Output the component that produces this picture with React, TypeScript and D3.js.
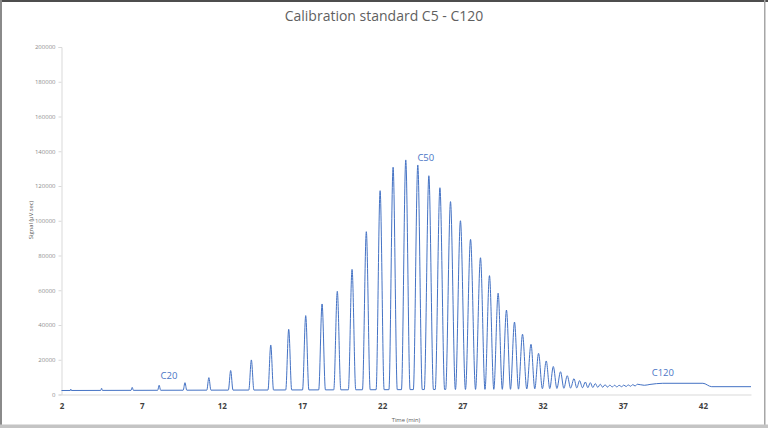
import React, { useEffect, useRef } from 'react'
import * as d3 from 'd3'

const WIDTH = 768
const HEIGHT = 428

// retention time (min) and apex signal of each alkane peak, C17 .. ~C66
const peakTimes = [
  2.58, 4.5, 6.41, 8.09, 9.7, 11.19, 12.55, 13.84, 15.05, 16.17, 17.23, 18.25, 19.2, 20.12, 21.01,
  21.87, 22.68, 23.47, 24.22, 24.91, 25.6, 26.26, 26.88, 27.51, 28.13, 28.69, 29.23, 29.75, 30.25,
  30.75, 31.28, 31.75, 32.23, 32.67, 33.12, 33.54, 33.96, 34.31, 34.67, 34.98, 35.29, 35.6, 35.9,
  36.2, 36.49, 36.78, 37.07, 37.35, 37.63, 37.91,
]
const peakSignals = [
  3100, 3600, 4100, 5300, 6800, 9700, 13800, 19900, 28500, 37500, 45400, 52100, 59400, 72000, 93700,
  117300, 130800, 135000, 132100, 125900, 119000, 111000, 100000, 89300, 78700, 68400, 58300, 48600,
  41700, 34700, 28900, 23700, 19300, 16100, 13100, 10800, 9100, 8000, 7200, 6800, 6300, 5900, 5600,
  5400, 5300, 5300, 5400, 5500, 5700, 5900,
]

// detector baseline (drift + column bleed at the end)
const baselineTimes = [2, 20, 30, 33, 35, 37, 38.2, 38.7, 39.5, 42.0, 42.55, 45]
const baselineSignals = [2300, 2700, 3000, 3500, 4000, 4500, 5100, 5800, 6450, 6450, 4500, 4500]

const xTicks = [2, 7, 12, 17, 22, 27, 32, 37, 42]
const yTicks = d3.range(0, 200001, 20000)

const labelNames = ['C20', 'C50', 'C120']
const labelTimes = [8.7, 24.72, 39.5]
const labelSignals = [10650, 135900, 12400]

const TITLE = 'Calibration standard C5 - C120'
const X_TITLE = 'Time (min)'
const Y_TITLE = 'Signal (µV.sec)'

const LINE = '#4472C4'
const FONT = "'Open Sans', 'DejaVu Sans', sans-serif"

const Chromatogram = () => {
  const ref = useRef<SVGGElement>(null)

  const x = d3.scaleLinear().domain([2, 45]).range([61.5, 751])
  const y = d3.scaleLinear().domain([0, 200000]).range([394.5, 47])
  const baseAt = d3.scaleLinear().domain(baselineTimes).range(baselineSignals).clamp(true)

  useEffect(() => {
    const g = d3.select(ref.current)
    g.selectAll('*').remove()

    // build the trace: every peak sits on the baseline, neighbouring peaks share valleys
    const pts: [number, number][] = []
    peakTimes.forEach((t, i) => {
      const half = 0.0115 * t
      const prev = i > 0 ? peakTimes[i - 1] : -Infinity
      const next = i < peakTimes.length - 1 ? peakTimes[i + 1] : Infinity
      const wl = Math.min(half, (t - prev) / 2)
      const wr = Math.min(half, (next - t) / 2)
      pts.push([t - wl, baseAt(t - wl)], [t, peakSignals[i]], [t + wr, baseAt(t + wr)])
    })
    baselineTimes.forEach(t => {
      const inside = peakTimes.some(p => Math.abs(t - p) < 0.0115 * p + 0.05)
      if (!inside) pts.push([t, baseAt(t)])
    })
    pts.sort((a, b) => a[0] - b[0])
    const trace = pts.filter((p, i) => i === 0 || p[0] - pts[i - 1][0] > 1e-6)

    const xAxis = g.append('g')
      .attr('transform', `translate(0,${y(0)})`)
      .call(d3.axisBottom(x).tickValues(xTicks).tickSize(0).tickPadding(9).tickFormat(d3.format('d')))
    xAxis.select('.domain').attr('stroke', '#d9d9d9')
    xAxis.selectAll('text')
      .attr('font-family', FONT)
      .attr('font-size', 8)
      .attr('font-weight', 700)
      .attr('fill', '#404040')

    const yAxis = g.append('g')
      .attr('transform', `translate(${x(2)},0)`)
      .call(d3.axisLeft(y).tickValues(yTicks).tickSize(3).tickPadding(3).tickFormat(d3.format('d')))
    yAxis.select('.domain').attr('stroke', '#d9d9d9')
    yAxis.selectAll('line').attr('stroke', '#d9d9d9')
    yAxis.selectAll('text')
      .attr('font-family', FONT)
      .attr('font-size', 6)
      .attr('fill', '#8c8c8c')

    const line = d3.line<[number, number]>()
      .x(d => x(d[0]))
      .y(d => y(d[1]))
      .curve(d3.curveMonotoneX)

    g.append('path')
      .datum(trace)
      .attr('d', line)
      .attr('fill', 'none')
      .attr('stroke', LINE)
      .attr('stroke-width', 1)
      .attr('stroke-linejoin', 'round')

    g.selectAll('text.peak')
      .data(labelNames)
      .enter()
      .append('text')
      .attr('class', 'peak')
      .attr('x', (d, i) => x(labelTimes[i]))
      .attr('y', (d, i) => y(labelSignals[i]))
      .attr('text-anchor', 'middle')
      .attr('dominant-baseline', 'middle')
      .attr('font-family', FONT)
      .attr('font-size', 9.5)
      .attr('fill', '#4a76c6')
      .text(d => d)
  }, [])

  return (
    <svg width={WIDTH} height={HEIGHT} style={{ position: 'absolute', left: 0, top: 0 }}>
      <rect x={0} y={0} width={WIDTH} height={HEIGHT} fill="#fff" />
      <rect x={0} y={0} width={WIDTH} height={2} fill="#4d4d4d" />
      <rect x={0} y={0} width={2} height={425} fill="#8a8a8a" />
      <rect x={764} y={0} width={1.5} height={425} fill="#a6a6a6" />
      <rect x={0} y={424.5} width={WIDTH} height={4} fill="#c4c4c4" />
      <text
        x={384}
        y={21}
        textAnchor="middle"
        fontFamily={FONT}
        fontSize={14}
        fill="#5f5f5f"
      >
        {TITLE}
      </text>
      <text
        transform="translate(31,220) rotate(-90)"
        textAnchor="middle"
        dominantBaseline="middle"
        fontFamily={FONT}
        fontSize={5.8}
        fill="#595959"
      >
        {Y_TITLE}
      </text>
      <text
        x={406}
        y={420}
        textAnchor="middle"
        dominantBaseline="middle"
        fontFamily={FONT}
        fontSize={5.8}
        fill="#595959"
      >
        {X_TITLE}
      </text>
      <g ref={ref} />
    </svg>
  )
}

export default function App() {
  return <Chromatogram />
}
